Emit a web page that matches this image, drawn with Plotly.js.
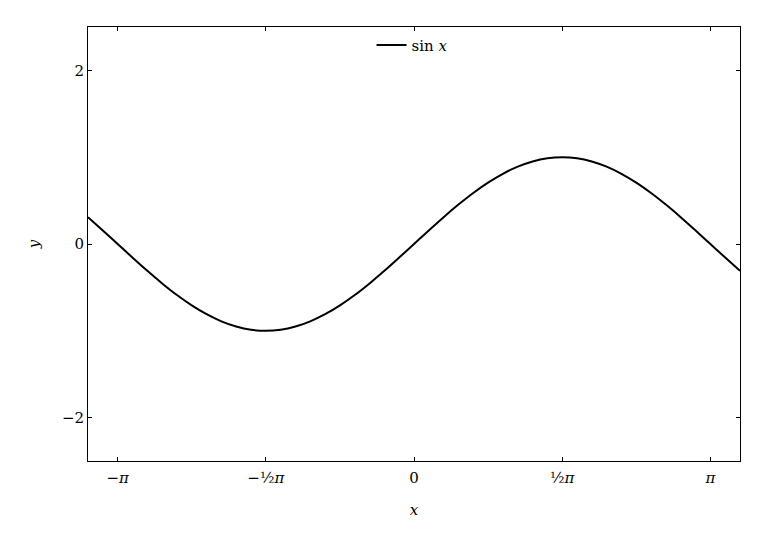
<!DOCTYPE html>
<html>
<head>
<meta charset="utf-8">
<script src="https://cdn.plot.ly/plotly-3.0.1.min.js"></script>
<style>
  html, body { margin: 0; padding: 0; background: #fff; }
  #myDiv { width: 768px; height: 542px; }
</style>
</head>
<body>
<div id="myDiv"></div>
<script>
// x samples (radians) and sin x
var xValues = [-3.456, -3.299, -3.142, -2.985, -2.827, -2.670, -2.513, -2.356, -2.199, -2.042,
    -1.885, -1.728, -1.571, -1.414, -1.257, -1.100, -0.942, -0.785, -0.628, -0.471,
    -0.314, -0.157, 0, 0.157, 0.314, 0.471, 0.628, 0.785, 0.942, 1.100,
    1.257, 1.414, 1.571, 1.728, 1.885, 2.042, 2.199, 2.356, 2.513, 2.670,
    2.827, 2.985, 3.142, 3.299, 3.456];
var yValues = [0.309, 0.156, 0, -0.156, -0.309, -0.454, -0.588, -0.707, -0.809, -0.891,
    -0.951, -0.988, -1.0, -0.988, -0.951, -0.891, -0.809, -0.707, -0.588, -0.454,
    -0.309, -0.156, 0, 0.156, 0.309, 0.454, 0.588, 0.707, 0.809, 0.891,
    0.951, 0.988, 1.0, 0.988, 0.951, 0.891, 0.809, 0.707, 0.588, 0.454,
    0.309, 0.156, 0, -0.156, -0.309];

var xTickVals = [-3.14159, -1.5708, 0, 1.5708, 3.14159];
var xTickText = ['−<i>π</i>', '−½<i>π</i>', '0', '½<i>π</i>', '<i>π</i>'];
var yTickVals = [-2, 0, 2];
var yTickText = ['−2', '0', '2'];

var serif = 'DejaVu Serif';

var sinData = {
    x: xValues,
    y: yValues,
    type: 'scatter',
    mode: 'lines',
    line: {color: '#000', width: 2, shape: 'spline'},
    name: 'sin <i>x</i>'
};

var axisStyle = {
    showgrid: false,
    zeroline: false,
    showline: true,
    linecolor: '#000',
    linewidth: 1,
    mirror: 'ticks',
    ticks: 'inside',
    ticklen: 4,
    tickcolor: '#000',
    tickfont: {family: serif, size: 15, color: '#000'}
};

var layout = {
    width: 768,
    height: 542,
    margin: {l: 88, r: 28, t: 27, b: 81},
    paper_bgcolor: '#fff',
    plot_bgcolor: '#fff',
    font: {family: serif, color: '#000'},
    showlegend: true,
    legend: {
        x: 0.497, xanchor: 'center', y: 0.996, yanchor: 'top',
        bgcolor: 'rgba(0,0,0,0)',
        font: {family: serif, size: 15},
        itemwidth: 30
    },
    xaxis: Object.assign({}, axisStyle, {
        range: [-3.456, 3.456],
        tickmode: 'array',
        tickvals: xTickVals,
        ticktext: xTickText,
        ticklabelstandoff: 3,
        title: {text: '<i>x</i>', font: {family: serif, size: 15}, standoff: 18}
    }),
    yaxis: Object.assign({}, axisStyle, {
        range: [-2.5, 2.5],
        tickmode: 'array',
        tickvals: yTickVals,
        ticktext: yTickText,
        title: {text: '<i>y</i>', font: {family: serif, size: 15}, standoff: 18}
    })
};

Plotly.newPlot('myDiv', [sinData], layout, {displayModeBar: false, staticPlot: true});
</script>
</body>
</html>
